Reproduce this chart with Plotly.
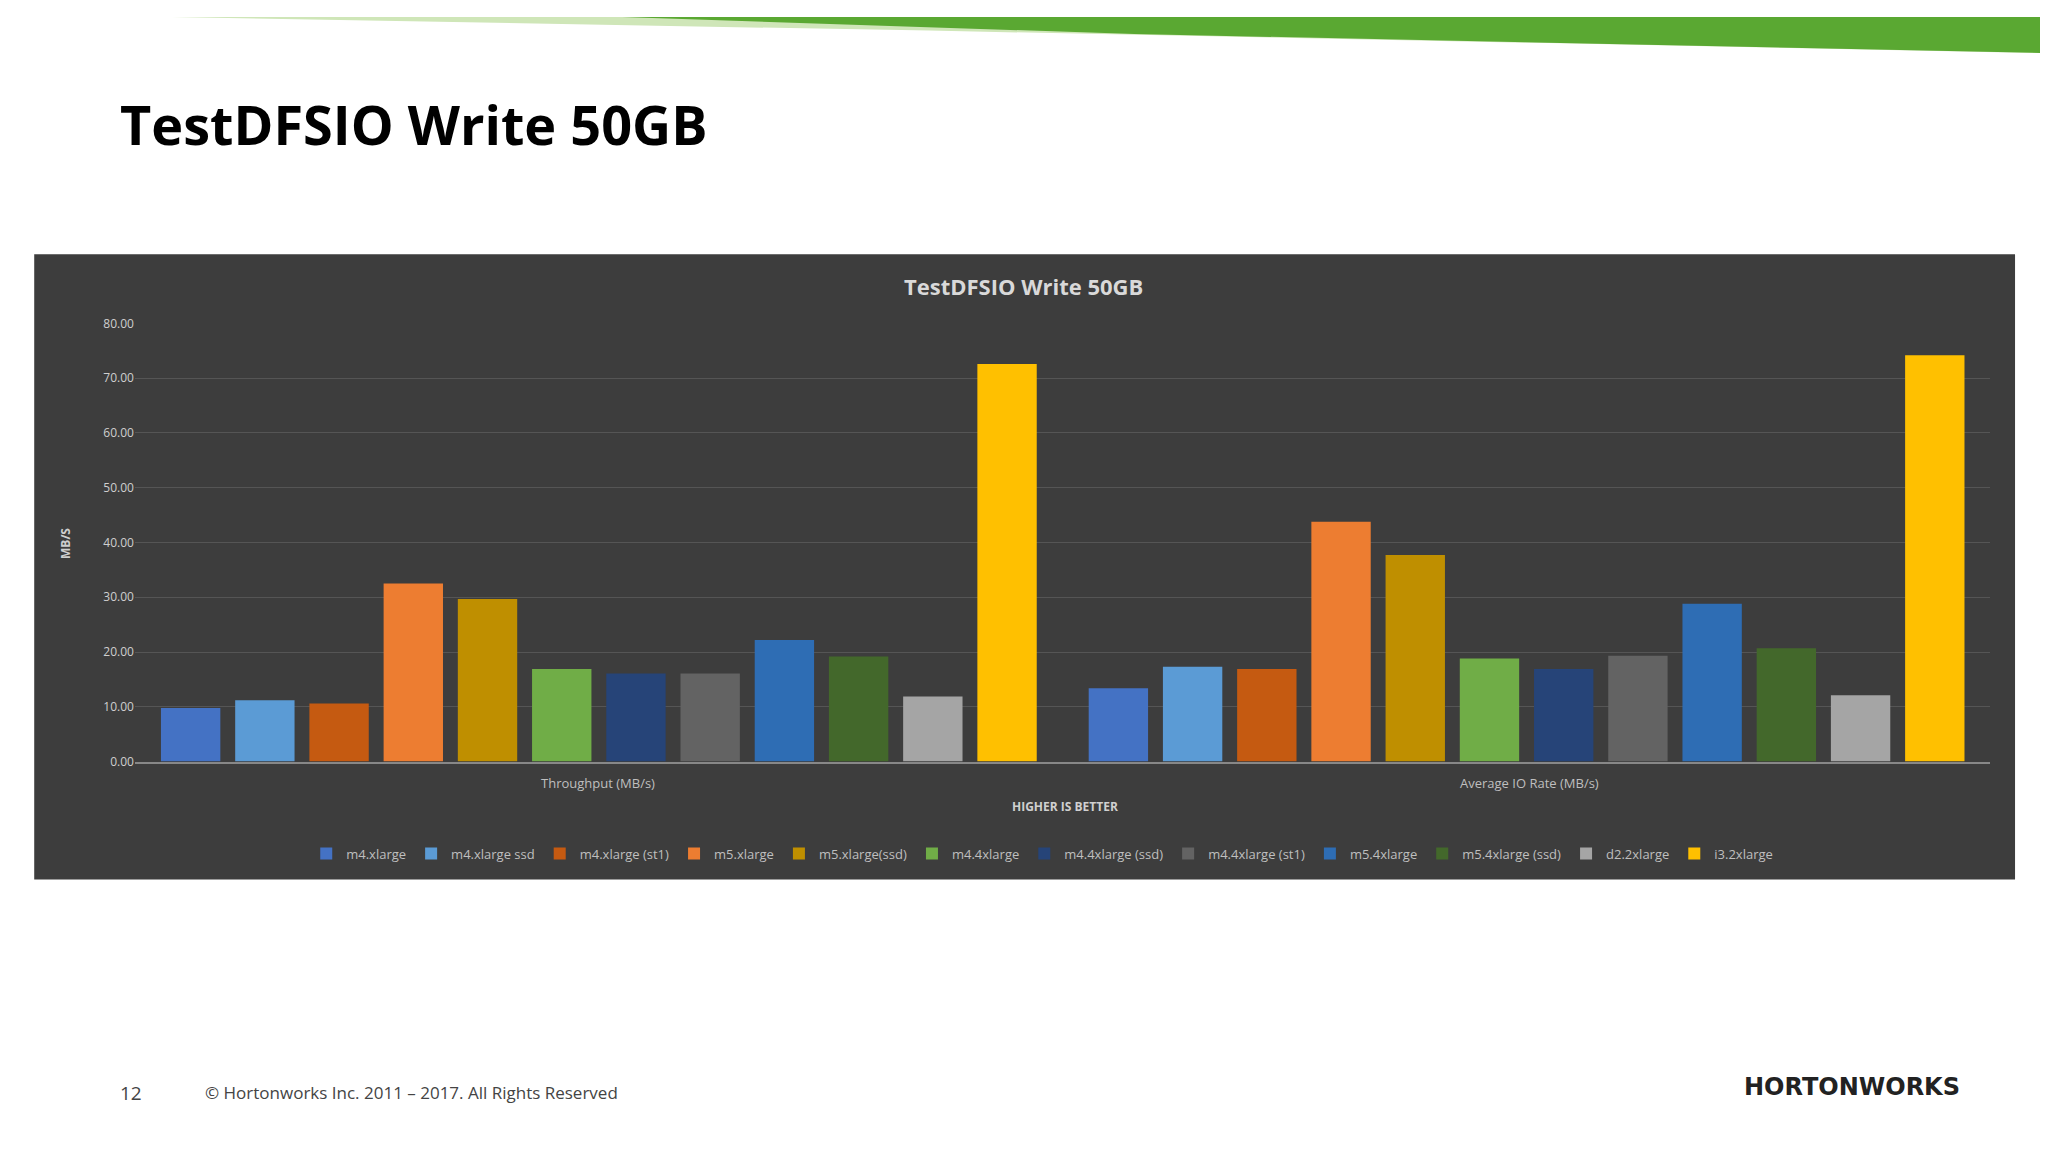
import plotly.graph_objects as go

categories = ["Throughput (MB/s)", "Average IO Rate (MB/s)"]
series = ["m4.xlarge", "m4.xlarge ssd", "m4.xlarge (st1)", "m5.xlarge", "m5.xlarge(ssd)",
          "m4.4xlarge", "m4.4xlarge (ssd)", "m4.4xlarge (st1)", "m5.4xlarge",
          "m5.4xlarge (ssd)", "d2.2xlarge", "i3.2xlarge"]
throughput = [9.8, 11.2, 10.6, 32.5, 29.7, 16.9, 16.1, 16.1, 22.2, 19.2, 11.9, 72.6]
avg_io = [13.4, 17.3, 16.9, 43.8, 37.7, 18.8, 16.9, 19.3, 28.8, 20.7, 12.1, 74.2]
colors = ["#4472C4", "#5B9BD5", "#C55A11", "#ED7D31", "#BF8F00", "#70AD47",
          "#264478", "#636363", "#2E6DB4", "#43682B", "#A5A5A5", "#FFC000"]
yticks = [0, 10, 20, 30, 40, 50, 60, 70, 80]

fig = go.Figure()
for i, s in enumerate(series):
    fig.add_trace(go.Bar(name=s, x=categories, y=[throughput[i], avg_io[i]],
                         marker=dict(color=colors[i], line_width=0)))

fig.update_layout(
    width=2048, height=1152, paper_bgcolor="white", plot_bgcolor="rgba(0,0,0,0)",
    margin=dict(l=0, r=0, t=0, b=0), barmode="group", bargap=0.04, bargroupgap=0.2,
    font=dict(family="Open Sans", color="#cfcfcf"),
    xaxis=dict(domain=[0.062, 0.968], showticklabels=False, showline=True,
               linecolor="#888", linewidth=2, fixedrange=True),
    yaxis=dict(domain=[0.344, 0.730], range=[0, 80], tickvals=yticks,
               ticktext=[f"{v:.2f}" for v in yticks], tickfont=dict(size=12, color="#cfcfcf"),
               gridcolor="#555555", zeroline=False),
    legend=dict(orientation="h", x=0.505, xanchor="center", y=0.263, yanchor="middle",
                font=dict(size=13, color="#bfbfbf"), bgcolor="rgba(0,0,0,0)",
                itemwidth=30, tracegroupgap=0),
    showlegend=True,
)
shapes = [
    dict(type="rect", xref="paper", yref="paper", x0=0.0128, x1=0.98, y0=0.240, y1=0.791,
         fillcolor="#3d3d3d", line_width=0, layer="below"),
    dict(type="path", xref="paper", yref="paper", path="M 0.08 1 L 1 1 L 1 0.968 L 0.45 0.988 Z",
         fillcolor="#cfe6b8", line_width=0, layer="below"),
    dict(type="path", xref="paper", yref="paper", path="M 0.3 1 L 1 1 L 1 0.968 L 0.55 0.985 Z",
         fillcolor="#5aa832", line_width=0, layer="below"),
]
fig.update_layout(shapes=shapes)
ann = [
    dict(text="<b>TestDFSIO Write 50GB</b>", x=0.0536, y=0.906, xanchor="left", yanchor="middle",
         font=dict(size=54, color="black", family="Open Sans")),
    dict(text="<b>TestDFSIO Write 50GB</b>", x=0.496, y=0.763, font=dict(size=22, color="#d9d9d9")),
    dict(text="Throughput (MB/s)", x=0.288, y=0.325, font=dict(size=13, color="#bfbfbf")),
    dict(text="Average IO Rate (MB/s)", x=0.743, y=0.325, font=dict(size=13, color="#bfbfbf")),
    dict(text="<b>HIGHER IS BETTER</b>", x=0.516, y=0.304, font=dict(size=12, color="#d0d0d0")),
    dict(text="<b>MB/S</b>", x=0.028, y=0.536, textangle=-90, font=dict(size=12, color="#cfcfcf")),
    dict(text="12", x=0.0536, y=0.052, xanchor="left", font=dict(size=19, color="#444")),
    dict(text="© Hortonworks Inc. 2011 – 2017. All Rights Reserved", x=0.095, y=0.052, xanchor="left",
         font=dict(size=17, color="#444")),
    dict(text="<b>HORTONWORKS</b>", x=0.9005, y=0.057, font=dict(size=24, color="#222", family="DejaVu Sans")),
]
for a in ann:
    a.setdefault("xref", "paper"); a.setdefault("yref", "paper")
    a.setdefault("xanchor", "center"); a.setdefault("yanchor", "middle")
    a["showarrow"] = False
fig.update_layout(annotations=ann)
fig.write_html("out.html")
